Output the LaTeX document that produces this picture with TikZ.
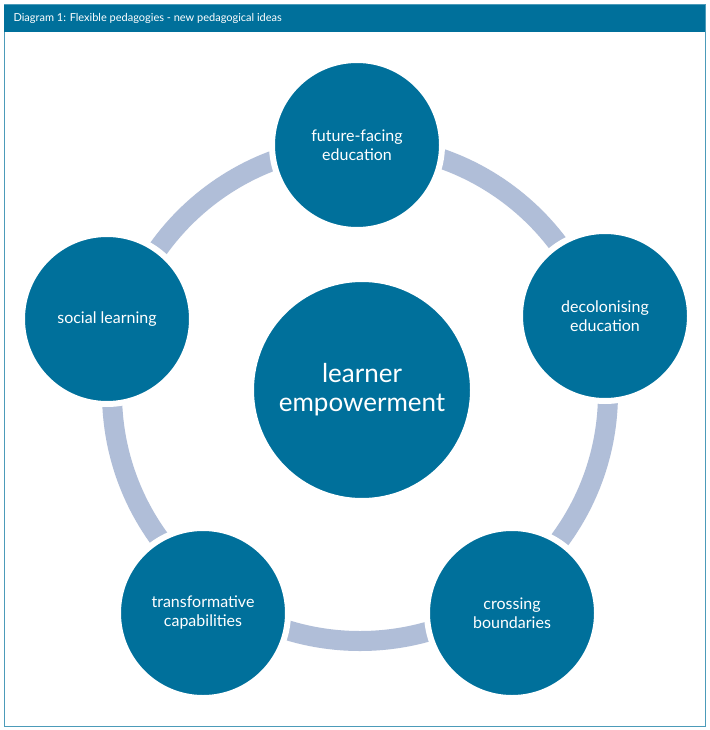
\documentclass[tikz,border=0pt]{standalone}
\usepackage{fontspec}
\setmainfont{Lato}
\usetikzlibrary{positioning}
\definecolor{teal}{RGB}{0,112,155}
\definecolor{ringc}{RGB}{176,190,216}
\begin{document}
\begin{tikzpicture}[
                x=1pt, y=1pt,
                idea/.style = {circle, draw=white, line width=3pt, fill=teal, text=white,
                    minimum size=170pt, align=center, font=\fontsize{16}{19}\selectfont,
                    double=teal!25, double distance=0pt},
                hub/.style = {idea, minimum size=222pt, font=\fontsize{26}{29}\selectfont}
            ]
            \useasboundingbox (0,0) rectangle (709,-730);
            \fill[white] (0,0) rectangle (709,-730);
            % frame and title bar
            \draw[teal!70, line width=1pt] (4,-5) rectangle (705,-726);
            \fill[teal] (4,-5) rectangle (705,-32);
            \node[anchor=west, text=white, font=\fontsize{11}{13}\selectfont] (title) at (10,-18.5)
                {Diagram 1: Flexible pedagogies - new pedagogical ideas};
            % ring
            \coordinate (mid) at (360,-393);
            \draw[ringc, line width=20pt] (mid) circle (248);
            % circles
            \node[hub] (core) at (362,-390) {learner\\empowerment};
            \node[idea] (future) at (357,-145) {future-facing\\education};
            \node[idea] (decol) at (605,-316) {decolonising\\education};
            \node[idea] (cross) at (512,-613) {crossing\\boundaries};
            \node[idea] (trans) at (203,-613) {transformative\\capabilities};
            \node[idea] (social) at (107,-319) {social learning};
        \end{tikzpicture}
\end{document}
